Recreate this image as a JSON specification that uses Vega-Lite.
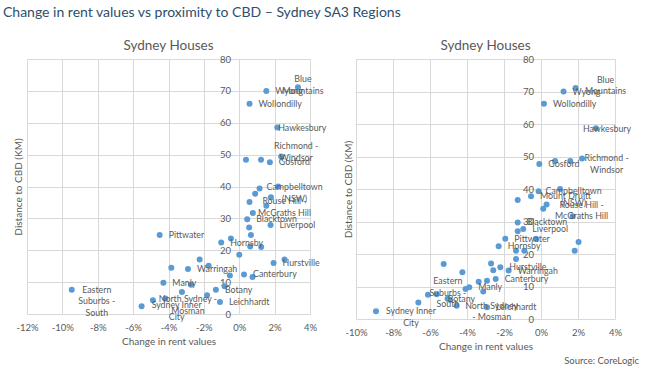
{
  "$schema": "https://vega.github.io/schema/vega-lite/v6.json",
  "background": "white",
  "padding": {"left": 3, "top": 5, "right": 4, "bottom": 4},
  "title": {"text": "Change in rent values vs proximity to CBD – Sydney SA3 Regions", "anchor": "start", "frame": "bounds", "fontSize": 14, "font": "Lato", "fontWeight": "normal", "color": "#2E4E6B", "dx": -10, "offset": 19},
  "config": {
    "view": {"stroke": null},
    "font": "Lato",
    "title": {"font": "Lato", "fontWeight": "normal", "color": "#595959"},
    "axis": {"gridColor": "#D9D9D9", "gridWidth": 1, "domain": false, "ticks": false, "tickSize": 0, "labelFlush": false, "labelFont": "Lato", "labelFontSize": 9.5, "labelColor": "#595959", "titleFont": "Lato", "titleFontSize": 10, "titleFontWeight": "normal", "titleColor": "#595959"}
  },
  "datasets": {
    "left": [
      {"x": 3.32, "y": 71.1, "label": "Blue\nMountains"},
      {"x": 1.53, "y": 70.0, "label": "Wyong"},
      {"x": 0.58, "y": 66.0, "label": "Wollondilly"},
      {"x": 2.15, "y": 58.5, "label": "Hawkesbury"},
      {"x": 2.37, "y": 49.4, "label": "Richmond -\nWindsor"},
      {"x": 0.38, "y": 48.4, "label": ""},
      {"x": 1.23, "y": 48.4, "label": ""},
      {"x": 1.73, "y": 47.6, "label": "Gosford"},
      {"x": 2.2, "y": 40.0, "label": ""},
      {"x": 1.15, "y": 39.4, "label": "Campbelltown\n(NSW)"},
      {"x": 0.9, "y": 37.7, "label": ""},
      {"x": 1.79, "y": 36.6, "label": ""},
      {"x": 0.58, "y": 35.1, "label": "Rouse Hill -\nMcGraths Hill"},
      {"x": 1.53, "y": 34.0, "label": ""},
      {"x": 0.77, "y": 31.7, "label": ""},
      {"x": 0.45, "y": 29.7, "label": "Blacktown"},
      {"x": 1.77, "y": 27.9, "label": "Liverpool"},
      {"x": 0.56, "y": 27.1, "label": ""},
      {"x": 0.66, "y": 24.8, "label": ""},
      {"x": -4.5, "y": 24.8, "label": "Pittwater"},
      {"x": -0.47, "y": 23.7, "label": ""},
      {"x": -1.02, "y": 22.4, "label": "Hornsby"},
      {"x": 0.62, "y": 21.2, "label": ""},
      {"x": 1.24, "y": 21.0, "label": ""},
      {"x": 0.0, "y": 18.6, "label": ""},
      {"x": -2.24, "y": 17.1, "label": ""},
      {"x": 2.56, "y": 17.1, "label": ""},
      {"x": 1.94, "y": 16.0, "label": "Hurstville"},
      {"x": -2.9, "y": 14.1, "label": "Warringah"},
      {"x": -1.73, "y": 15.1, "label": ""},
      {"x": -3.84, "y": 14.5, "label": ""},
      {"x": -0.53, "y": 12.1, "label": ""},
      {"x": 0.27, "y": 12.4, "label": "Canterbury"},
      {"x": 0.75, "y": 11.6, "label": ""},
      {"x": -4.29, "y": 9.8, "label": "Manly"},
      {"x": -2.73, "y": 9.2, "label": ""},
      {"x": -0.83, "y": 8.7, "label": ""},
      {"x": -1.32, "y": 7.6, "label": "Botany"},
      {"x": -9.47, "y": 7.6, "label": "Eastern\nSuburbs -\nSouth"},
      {"x": -3.24, "y": 6.9, "label": ""},
      {"x": -1.82, "y": 5.9, "label": ""},
      {"x": -4.88, "y": 4.3, "label": "North Sydney -\nMosman"},
      {"x": -4.18, "y": 4.9, "label": ""},
      {"x": -1.09, "y": 3.8, "label": "Leichhardt"},
      {"x": -5.52, "y": 2.4, "label": "Sydney Inner\nCity"}
    ],
    "right": [
      {"x": 1.87, "y": 71.1, "label": "Blue\nMountains"},
      {"x": 1.22, "y": 70.0, "label": "Wyong"},
      {"x": 0.16, "y": 66.2, "label": "Wollondilly"},
      {"x": 2.97, "y": 58.7, "label": "Hawkesbury"},
      {"x": 2.22, "y": 49.4, "label": "Richmond -\nWindsor"},
      {"x": 1.58, "y": 48.6, "label": ""},
      {"x": 0.76, "y": 48.6, "label": ""},
      {"x": -0.09, "y": 47.7, "label": "Gosford"},
      {"x": 1.03, "y": 40.0, "label": ""},
      {"x": -0.13, "y": 39.3, "label": "Campbelltown\n(NSW)"},
      {"x": -0.54, "y": 37.8, "label": "Mount Druitt"},
      {"x": -1.26, "y": 36.6, "label": ""},
      {"x": 0.3, "y": 35.2, "label": "Rouse Hill -\nMcGraths Hill"},
      {"x": 0.12, "y": 33.9, "label": ""},
      {"x": 1.71, "y": 31.6, "label": ""},
      {"x": -1.26, "y": 29.7, "label": "Blacktown"},
      {"x": -0.96, "y": 27.7, "label": "Liverpool"},
      {"x": -1.26, "y": 27.0, "label": ""},
      {"x": -1.93, "y": 24.7, "label": "Pittwater"},
      {"x": -0.27, "y": 24.7, "label": ""},
      {"x": 2.03, "y": 23.7, "label": ""},
      {"x": 1.82, "y": 21.0, "label": ""},
      {"x": -2.29, "y": 22.4, "label": "Hornsby"},
      {"x": -1.35, "y": 21.0, "label": ""},
      {"x": -0.9, "y": 21.0, "label": ""},
      {"x": -1.35, "y": 18.5, "label": ""},
      {"x": -2.7, "y": 17.1, "label": ""},
      {"x": -5.26, "y": 16.9, "label": ""},
      {"x": -2.2, "y": 15.9, "label": "Hurstville"},
      {"x": -2.58, "y": 15.0, "label": ""},
      {"x": -1.75, "y": 14.9, "label": "Warringah"},
      {"x": -4.25, "y": 14.4, "label": "Eastern\nSuburbs -\nSouth"},
      {"x": -2.45, "y": 12.3, "label": "Canterbury"},
      {"x": -2.92, "y": 11.8, "label": ""},
      {"x": -3.37, "y": 11.5, "label": ""},
      {"x": -3.88, "y": 9.8, "label": "Manly"},
      {"x": -4.08, "y": 9.2, "label": ""},
      {"x": -3.12, "y": 8.5, "label": ""},
      {"x": -6.11, "y": 7.5, "label": ""},
      {"x": -5.64, "y": 7.6, "label": "Botany"},
      {"x": -5.05, "y": 6.2, "label": ""},
      {"x": -4.94, "y": 5.9, "label": ""},
      {"x": -6.63, "y": 5.1, "label": ""},
      {"x": -4.56, "y": 4.1, "label": "North Sydney\n- Mosman"},
      {"x": -2.92, "y": 3.6, "label": "Leichhardt"},
      {"x": -8.92, "y": 2.4, "label": "Sydney Inner\nCity"}
    ]
  },
  "bounds": "flush",
  "spacing": 46,
  "hconcat": [
    {
      "width": 283,
      "height": 255,
      "title": {"text": "Sydney Houses", "fontSize": 13.5, "frame": "group", "offset": 2},
      "data": {"name": "left"},
      "encoding": {
        "x": {"field": "x", "type": "quantitative", "scale": {"domain": [-12, 4], "nice": false, "zero": false},
              "axis": {"title": "Change in rent values", "values": [-12, -10, -8, -6, -4, -2, 0, 2, 4], "labelExpr": "datum.value + '%'", "labelPadding": 8, "titlePadding": 5}},
        "y": {"field": "y", "type": "quantitative", "scale": {"domain": [0, 80], "nice": false, "zero": false},
              "axis": {"title": "Distance to CBD (KM)", "values": [0, 10, 20, 30, 40, 50, 60, 70, 80], "offset": -212, "labelPadding": 8.5, "titleX": -221, "titleY": 127.5, "titleAngle": -90, "titleAlign": "center", "titleBaseline": "middle"}}
      },
      "layer": [
        {"mark": {"type": "circle", "size": 36, "color": "#5B9BD5", "opacity": 1}},
        {"transform": [{"filter": {"field": "label", "oneOf": ["Wyong", "Wollondilly", "Gosford", "Blacktown", "Liverpool", "Pittwater", "Hornsby", "Hurstville", "Warringah", "Canterbury", "Manly", "Botany", "Leichhardt"]}}],
         "mark": {"type": "text", "align": "left", "baseline": "middle", "dx": 9, "fontSize": 8.8, "color": "#595959"},
         "encoding": {"text": {"field": "label"}}},
        {"transform": [{"filter": {"field": "label", "oneOf": ["Campbelltown\n(NSW)", "Rouse Hill -\nMcGraths Hill", "North Sydney -\nMosman", "Sydney Inner\nCity"]}}],
         "mark": {"type": "text", "align": "center", "baseline": "middle", "dx": 35, "dy": -1, "fontSize": 8.8, "color": "#595959", "lineBreak": "\n", "lineHeight": 11.5},
         "encoding": {"text": {"field": "label"}}},
        {"transform": [{"filter": {"field": "label", "oneOf": ["Eastern\nSuburbs -\nSouth"]}}],
         "mark": {"type": "text", "align": "center", "baseline": "middle", "dx": 25, "fontSize": 8.8, "color": "#595959", "lineBreak": "\n", "lineHeight": 11.5},
         "encoding": {"text": {"field": "label"}}},
        {"transform": [{"filter": {"field": "label", "oneOf": ["Blue\nMountains"]}}],
         "mark": {"type": "text", "align": "center", "baseline": "middle", "dx": 5, "dy": -8, "fontSize": 8.8, "color": "#595959", "lineBreak": "\n", "lineHeight": 11.5},
         "encoding": {"text": {"field": "label"}}},
        {"transform": [{"filter": {"field": "label", "oneOf": ["Hawkesbury"]}}],
         "mark": {"type": "text", "align": "left", "baseline": "middle", "dx": 1, "fontSize": 8.8, "color": "#595959"},
         "encoding": {"text": {"field": "label"}}},
        {"transform": [{"filter": {"field": "label", "oneOf": ["Richmond -\nWindsor"]}}],
         "mark": {"type": "text", "align": "center", "baseline": "middle", "dx": 15, "dy": -10.5, "fontSize": 8.8, "color": "#595959", "lineBreak": "\n", "lineHeight": 11.5},
         "encoding": {"text": {"field": "label"}}}
      ]
    },
    {
      "bounds": "flush",
      "title": {"text": "Source: CoreLogic", "orient": "bottom", "anchor": "end", "frame": "bounds", "dx": 8, "offset": 4, "fontSize": 9.5, "color": "#595959"},
      "vconcat": [
        {
          "width": 259,
          "height": 260,
          "title": {"text": "Sydney Houses", "fontSize": 13.5, "frame": "group", "offset": 2},
          "data": {"name": "right"},
          "encoding": {
            "x": {"field": "x", "type": "quantitative", "scale": {"domain": [-10, 4], "nice": false, "zero": false},
                  "axis": {"title": "Change in rent values", "values": [-10, -8, -6, -4, -2, 0, 2, 4], "labelExpr": "datum.value + '%'", "labelPadding": 8, "titlePadding": 5}},
            "y": {"field": "y", "type": "quantitative", "scale": {"domain": [0, 80], "nice": false, "zero": false},
                  "axis": {"title": "Distance to CBD (KM)", "values": [0, 10, 20, 30, 40, 50, 60, 70, 80], "offset": -186, "labelPadding": 8.5, "titleX": -194, "titleY": 130, "titleAngle": -90, "titleAlign": "center", "titleBaseline": "middle"}}
          },
          "layer": [
            {"mark": {"type": "circle", "size": 36, "color": "#5B9BD5", "opacity": 1}},
            {"transform": [{"filter": {"field": "label", "oneOf": ["Wyong", "Wollondilly", "Gosford", "Mount Druitt", "Blacktown", "Liverpool", "Pittwater", "Hornsby", "Hurstville", "Warringah", "Canterbury", "Manly", "Leichhardt"]}}],
             "mark": {"type": "text", "align": "left", "baseline": "middle", "dx": 9, "fontSize": 8.8, "color": "#595959"},
             "encoding": {"text": {"field": "label"}}},
            {"transform": [{"filter": {"field": "label", "oneOf": ["Campbelltown\n(NSW)", "Rouse Hill -\nMcGraths Hill", "North Sydney\n- Mosman", "Sydney Inner\nCity"]}}],
             "mark": {"type": "text", "align": "center", "baseline": "middle", "dx": 35, "fontSize": 8.8, "color": "#595959", "lineBreak": "\n", "lineHeight": 11.5},
             "encoding": {"text": {"field": "label"}}},
            {"transform": [{"filter": {"field": "label", "oneOf": ["Blue\nMountains"]}}],
             "mark": {"type": "text", "align": "center", "baseline": "middle", "dx": 30, "dy": -8, "fontSize": 8.8, "color": "#595959", "lineBreak": "\n", "lineHeight": 11.5},
             "encoding": {"text": {"field": "label"}}},
            {"transform": [{"filter": {"field": "label", "oneOf": ["Hawkesbury"]}}],
             "mark": {"type": "text", "align": "left", "baseline": "middle", "dx": -13, "dy": 1, "fontSize": 8.8, "color": "#595959"},
             "encoding": {"text": {"field": "label"}}},
            {"transform": [{"filter": {"field": "label", "oneOf": ["Richmond -\nWindsor"]}}],
             "mark": {"type": "text", "align": "center", "baseline": "middle", "dx": 24.5, "fontSize": 8.8, "color": "#595959", "lineBreak": "\n", "lineHeight": 11.5},
             "encoding": {"text": {"field": "label"}}},
            {"transform": [{"filter": {"field": "label", "oneOf": ["Eastern\nSuburbs -\nSouth"]}}],
             "mark": {"type": "text", "align": "center", "baseline": "middle", "dx": -14.5, "dy": 9, "fontSize": 8.8, "color": "#595959", "lineBreak": "\n", "lineHeight": 11.5},
             "encoding": {"text": {"field": "label"}}},
            {"transform": [{"filter": {"field": "label", "oneOf": ["Botany"]}}],
             "mark": {"type": "text", "align": "left", "baseline": "middle", "dx": 11, "dy": 5, "fontSize": 8.8, "color": "#595959"},
             "encoding": {"text": {"field": "label"}}}
          ]
        }
      ]
    }
  ]
}
